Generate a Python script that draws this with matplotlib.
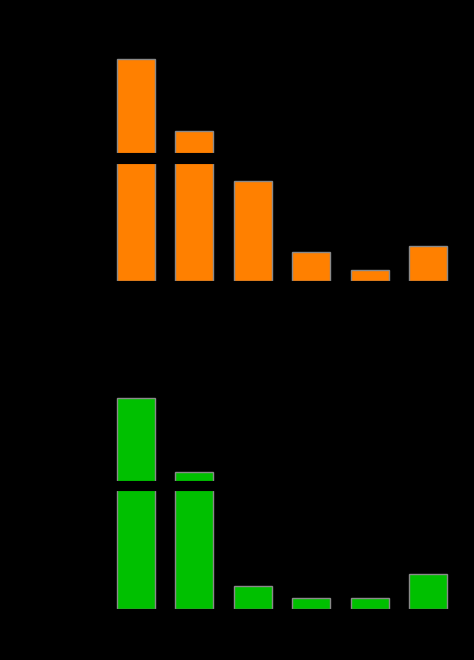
import numpy as np
import matplotlib
matplotlib.use("Agg")
import matplotlib.pyplot as plt

# six categories per panel, broken y axis (lower 0-100, upper 250+)
categories = ["A", "B", "C", "D", "E", "F"]
orange_values = [330, 269, 85, 25, 9, 30]
green_values = [320, 258, 19, 9, 9, 29]

lower_lim = (0, 100)
upper_lim = (250, 345.8)
lower_ticks = [0, 25, 50, 75]
upper_ticks = [275, 300, 325]

fig = plt.figure(figsize=(4.74, 6.6), dpi=100, facecolor="black")

W, H = 474.0, 660.0
left = 106.8 / W
width = 350.4 / W


def add_panel(top_px, split_top_px, split_bot_px, bottom_px, values, color):
    ax_up = fig.add_axes([left, (H - split_top_px) / H, width, (split_top_px - top_px) / H])
    ax_lo = fig.add_axes([left, (H - bottom_px) / H, width, (bottom_px - split_bot_px) / H])
    x = np.arange(len(categories))
    for ax, lim, ticks in ((ax_up, upper_lim, upper_ticks), (ax_lo, lower_lim, lower_ticks)):
        ax.set_facecolor("black")
        ax.bar(x, values, width=0.65, color=color, edgecolor="#8a8a8a", linewidth=1)
        ax.set_xlim(-0.5, len(categories) - 0.5)
        ax.set_ylim(*lim)
        ax.set_yticks(ticks)
        for s in ax.spines.values():
            s.set_color("black")
        ax.tick_params(colors="black")
    ax_up.set_xticks([])
    ax_lo.set_xticks(x)
    ax_lo.set_xticklabels(categories, color="black")
    return ax_up, ax_lo


add_panel(40, 153, 163, 281, orange_values, "#ff8000")
add_panel(368, 481, 490, 609, green_values, "#00c000")

fig.savefig("out.png", dpi=100, facecolor="black")
